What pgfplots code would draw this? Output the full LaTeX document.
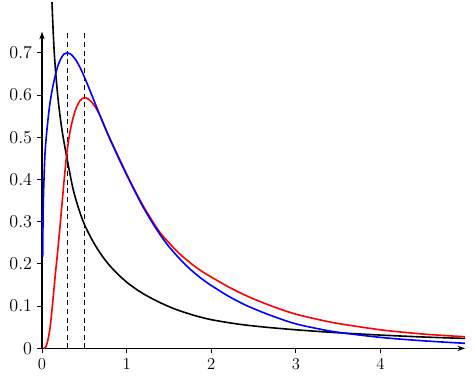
\documentclass[border=0pt]{standalone}
\usepackage{pgfplots}
\pgfplotsset{compat=1.18}
\usetikzlibrary{arrows.meta}
\begin{document}
\begin{tikzpicture}
\begin{axis}[
  anchor=origin, at={(0pt,0pt)},
  scale only axis,
  width=304.6pt, height=228pt,
  xmin=0, xmax=5, ymin=0, ymax=0.75,
  axis lines=left,
  axis line style={line width=0.75pt, -{Stealth[length=5.5pt,width=3.8pt]}},
  tick align=outside,
  major tick length=3.6pt,
  tick style={line width=0.7pt, black},
  tick label style={font=\fontsize{13}{15}\selectfont},
  xtick={0,1,2,3,4},
  ytick={0,0.1,0.2,0.3,0.4,0.5,0.6,0.7},
  yticklabels={0,0.1,0.2,0.3,0.4,0.5,0.6,0.7},
  clip=false,
]
\addplot[black, line width=0.7pt, dash pattern=on 3.6pt off 2.6pt] coordinates {(0.3,0) (0.3,0.75)};
\addplot[black, line width=0.7pt, dash pattern=on 3.6pt off 2.6pt] coordinates {(0.5,0) (0.5,0.75)};
% black
\addplot[black, line width=1.15pt, smooth] coordinates {
(0.118,0.82) (0.13,0.76) (0.145,0.70) (0.165,0.645) (0.19,0.59) (0.22,0.54)
(0.25,0.50) (0.284,0.462) (0.32,0.424) (0.37,0.375) (0.43,0.333) (0.5,0.294)
(0.6,0.254) (0.7,0.222) (0.8,0.196) (0.9,0.175) (1.0,0.157) (1.1,0.142)
(1.2,0.129) (1.3,0.118) (1.4,0.108) (1.5,0.099) (1.6,0.091) (1.8,0.078)
(2.0,0.068) (2.3,0.058) (2.6,0.051) (3.0,0.044) (3.5,0.037) (4.0,0.0315)
(4.5,0.027) (5.0,0.0235)};
% red
\addplot[red, line width=1.15pt, smooth] coordinates {
(0.02,0) (0.04,0.002) (0.06,0.012) (0.08,0.03) (0.1,0.056) (0.12,0.095)
(0.14,0.138) (0.16,0.18) (0.18,0.22) (0.2,0.26) (0.22,0.305) (0.24,0.35)
(0.26,0.395) (0.28,0.437) (0.3,0.472) (0.33,0.512) (0.37,0.548) (0.41,0.572)
(0.45,0.587) (0.5,0.594) (0.55,0.59) (0.6,0.58) (0.65,0.565) (0.7,0.545)
(0.75,0.521) (0.8,0.498) (0.9,0.455) (1.0,0.413) (1.1,0.373) (1.2,0.336)
(1.3,0.303) (1.4,0.273) (1.5,0.250) (1.6,0.229) (1.7,0.211) (1.8,0.195)
(1.9,0.181) (2.0,0.169) (2.2,0.146) (2.4,0.126) (2.6,0.109) (2.8,0.094)
(3.0,0.081) (3.25,0.069) (3.5,0.059) (4.0,0.044) (4.5,0.034) (5.0,0.0275)};
% blue
\addplot[blue, line width=1.15pt, smooth] coordinates {
(0.008,0.215) (0.012,0.3) (0.016,0.35) (0.025,0.41) (0.035,0.46) (0.05,0.50)
(0.07,0.54) (0.09,0.575) (0.12,0.612) (0.15,0.64) (0.18,0.664) (0.22,0.685)
(0.26,0.697) (0.3,0.70) (0.35,0.695) (0.4,0.683) (0.45,0.665) (0.5,0.643)
(0.55,0.619) (0.6,0.594) (0.65,0.569) (0.7,0.544) (0.75,0.520) (0.8,0.497)
(0.9,0.453) (1.0,0.411) (1.1,0.371) (1.2,0.333) (1.3,0.299) (1.4,0.268)
(1.5,0.241) (1.6,0.218) (1.7,0.197) (1.8,0.179) (1.9,0.163) (2.0,0.149)
(2.2,0.124) (2.4,0.103) (2.6,0.086) (2.8,0.071) (3.0,0.058) (3.25,0.047)
(3.5,0.038) (4.0,0.026) (4.5,0.018) (5.0,0.012)};
\end{axis}
\pgfresetboundingbox
\path (-30.24pt,-20.66pt) rectangle (311.0pt,250.8pt);
\end{tikzpicture}
\end{document}
